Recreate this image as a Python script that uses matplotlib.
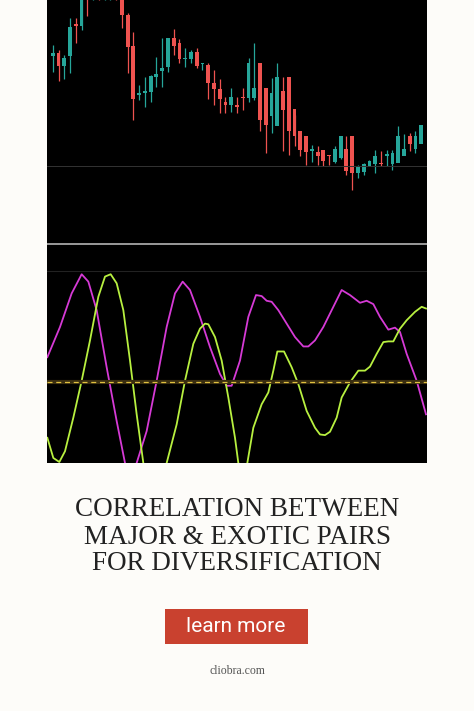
import matplotlib
matplotlib.use("Agg")
import matplotlib.pyplot as plt
from matplotlib.patches import Rectangle

# candle data: price units (1000 - screen position), index = bar number
opens  = [833,840,802,832,928,922,1060,1050,1080,1040,1070,1090,1000,955,862,715,722,725,770,788,800,885,872,823,823,845,807,805,750,732,695,685,685,710,705,705,812,735,652,622,728,768,672,607,592,547,542,550,532,513,525,552,590,481,482,497,507,510,532,507,510,532,592,552,568]
closes = [840,802,827,920,923,1000,1040,1080,1040,1070,1090,1070,955,860,702,722,728,772,778,795,885,862,824,827,845,802,807,750,732,702,685,710,680,705,810,735,640,625,722,770,670,605,592,548,542,552,532,515,530,552,592,487,481,497,507,516,532,507,538,540,592,552,568,592,625]
highs  = [865,850,835,945,945,1010,1090,1100,1100,1100,1100,1100,1010,960,903,745,770,775,830,885,885,912,882,855,850,857,812,810,790,763,710,735,710,735,825,870,745,660,765,812,768,690,655,605,565,565,560,540,535,560,592,590,503,505,510,520,550,545,548,550,620,598,600,605,625]
lows   = [785,757,762,780,870,910,952,1000,1000,1000,1000,1000,915,780,640,700,680,695,740,738,785,835,810,800,810,795,790,702,685,660,660,665,660,670,695,700,605,540,600,710,545,535,560,530,503,512,503,500,505,510,522,475,430,465,475,500,480,500,500,490,520,540,545,540,582]

# oscillator lines (screen-derived x, value relative to signal level)
mag_x = [22,60,95,125,145,170,200,230,255,272,290,320,350,380,405,428,450,480,510,540,560,575,600,625,648,665,680,695,715,740,765,790,805,825,850,880,905,930,960,980,1000,1020,1045,1065,1080,1100,1130,1158]
mag_y = [75,165,265,322,300,215,45,-115,-240,-275,-240,-145,5,165,265,300,275,195,105,25,-10,-10,65,195,260,257,243,240,215,175,135,107,107,125,165,225,275,260,237,243,233,195,157,163,150,85,5,-95]
lime_x = [22,40,58,75,100,125,150,175,195,212,230,250,270,290,310,330,350,380,410,435,460,480,495,505,525,545,565,585,595,608,622,640,665,685,700,712,732,755,775,800,825,840,855,870,890,905,930,955,975,990,1010,1030,1045,1060,1080,1100,1125,1145,1158]
lime_y = [-165,-225,-237,-205,-105,5,125,255,315,322,295,215,65,-95,-240,-300,-295,-240,-125,5,115,160,175,173,135,65,-45,-165,-240,-290,-240,-135,-65,-30,35,92,92,45,-5,-85,-135,-155,-157,-147,-105,-45,0,35,35,47,85,120,122,122,160,185,210,225,220]

GREEN = "#26a69a"; RED = "#ef5350"
W, H = 474, 711
fig = plt.figure(figsize=(W/100, H/100), dpi=100)
fig.patch.set_facecolor("#fdfcf9")

def ax_px(x0, y0, x1, y1):
    a = fig.add_axes([x0/W, 1-y1/H, (x1-x0)/W, (y1-y0)/H])
    a.set_facecolor("black")
    a.set_xticks([]); a.set_yticks([])
    for s in a.spines.values():
        s.set_visible(False)
    return a

ax = ax_px(47, 0, 427, 243)
for i in range(len(opens)):
    o, c, h, l = opens[i], closes[i], highs[i], lows[i]
    col = GREEN if c >= o else RED
    ax.vlines(i, l, h, color=col, lw=0.9)
    ax.add_patch(Rectangle((i-0.33, min(o, c)), 0.66, max(abs(c-o), 4), color=col, lw=0))
ax.axhline(500, color="#333333", lw=0.7)
ax.set_xlim(-1, 65)
ax.set_ylim(270, 1000)

ax2 = ax_px(47, 243, 427, 463)
ax2.plot(mag_x, mag_y, color="#d63ad6", lw=1.3)
ax2.plot(lime_x, lime_y, color="#b8f040", lw=1.3)
ax2.axhline(0, color="#3a2e10", lw=3)
ax2.axhline(0, color="#e0c040", lw=0.9, ls=(0, (4, 3)))
ax2.axhline(332, color="#222222", lw=0.8)
ax2.axhline(413, color="#9a9a9a", lw=1.4)
ax2.set_xlim(21, 1161)
ax2.set_ylim(-240, 415)

title = ["CORRELATION BETWEEN", "MAJOR & EXOTIC PAIRS", "FOR DIVERSIFICATION"]
for k, t in enumerate(title):
    fig.text(0.5, 1-(510+27*k)/H, t, ha="center", va="center", fontsize=19.5,
             family=["Liberation Serif", "DejaVu Serif"], color="#222222")

fig.patches.append(Rectangle((165/W, 1-644/H), 143/W, 35/H, transform=fig.transFigure,
                             color="#c9412f", lw=0))
fig.text(236/W, 1-626/H, "learn more", ha="center", va="center", fontsize=15,
         family=["Roboto", "DejaVu Sans"], color="white")
fig.text(0.5, 1-671/H, "cliobra.com", ha="center", va="center", fontsize=8.5,
         family=["Liberation Serif", "DejaVu Serif"], color="#555555")

fig.savefig("out.png", dpi=100, facecolor=fig.get_facecolor())
